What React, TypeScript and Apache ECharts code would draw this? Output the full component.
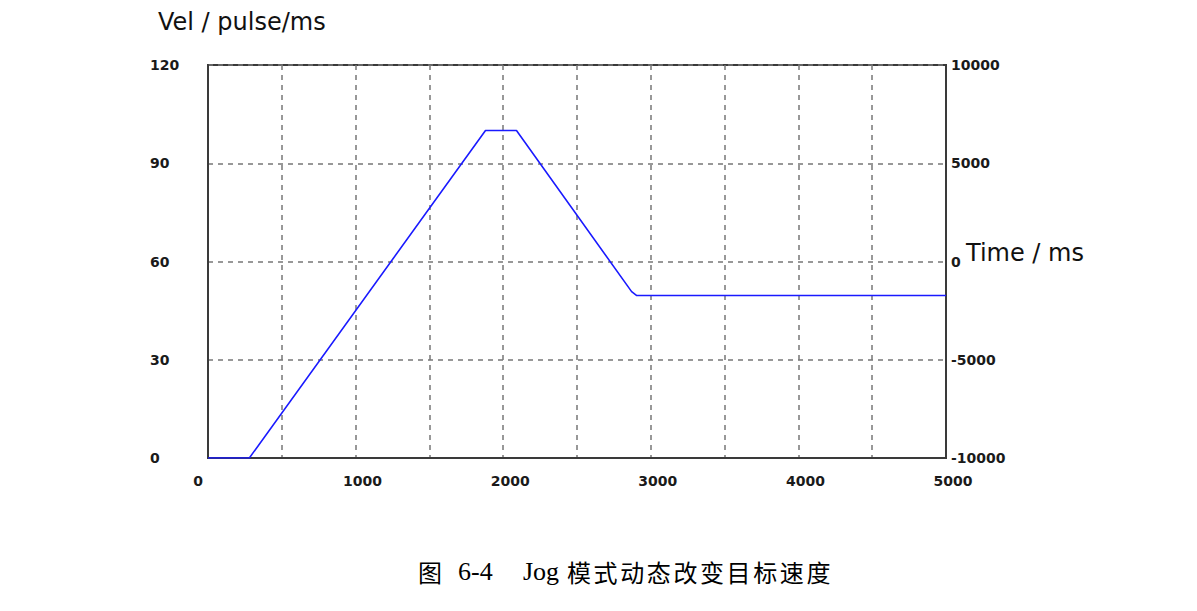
import React, { useEffect, useRef } from "react";
import * as echarts from "echarts";

// Velocity profile (time ms, velocity pulse/ms)
const timeMs = [0, 280, 1880, 2090, 2870, 2905, 5000];
const velocity = [0, 0, 100, 100, 50.8, 49.6, 49.6];

const xTicks = [0, 1000, 2000, 3000, 4000, 5000];
const leftTicks = [0, 30, 60, 90, 120];
const rightTicks = [-10000, -5000, 0, 5000, 10000];

const leftAxisName = "Vel / pulse/ms";
const rightAxisName = "Time / ms";
const captionPrefix = "图";
const captionNumber = "6-4";
const captionLatin = "Jog";
const captionChars = ["模", "式", "动", "态", "改", "变", "目", "标", "速", "度"];

export default function App() {
  const ref = useRef<HTMLDivElement>(null);

  useEffect(() => {
    if (!ref.current) return;
    const chart = echarts.init(ref.current, null, { renderer: "svg" });
    const labelFont = {
      fontFamily: "DejaVu Sans",
      fontSize: 14,
      fontWeight: "bold" as const,
      color: "#1a1a1a",
    };
    const dash = { color: "#777", width: 1.5, type: [5, 5] as any };
    const axisLine = { show: true, lineStyle: { color: "#3a3a3a", width: 2 } };

    const captionGraphics: any[] = [
      { type: "text", left: 418, top: 559, style: { text: captionPrefix, font: "normal 24px 'Noto Sans CJK SC'", fill: "#000" } },
      { type: "text", left: 458, top: 558, style: { text: captionNumber, font: "normal 26px 'Liberation Serif'", fill: "#000" } },
      { type: "text", left: 523, top: 558, style: { text: captionLatin, font: "normal 26px 'Liberation Serif'", fill: "#000" } },
      ...captionChars.map((c, i) => ({
        type: "text",
        left: 567 + i * 26.6,
        top: 559,
        style: { text: c, font: "normal 24px 'Noto Sans CJK SC'", fill: "#000" },
      })),
    ];

    chart.setOption({
      animation: false,
      backgroundColor: "#fff",
      grid: {
        left: 208,
        right: 251,
        top: 65,
        bottom: 153,
        show: true,
        borderColor: "#3a3a3a",
        borderWidth: 2,
        containLabel: false,
      },
      xAxis: {
        type: "value",
        min: xTicks[0],
        max: xTicks[xTicks.length - 1],
        interval: 500,
        axisLine,
        axisTick: { show: false },
        splitLine: { show: true, lineStyle: dash },
        axisLabel: {
          ...labelFont,
          margin: 16,
          formatter: (v: number) =>
            xTicks.includes(v) ? (v === 0 ? "{z|0}" : "{n|" + v + "}") : "",
          rich: {
            n: { ...labelFont, padding: [0, 0, 0, 14] },
            z: { ...labelFont, padding: [0, 20, 0, 0] },
          },
        },
      },
      yAxis: [
        {
          type: "value",
          position: "left",
          min: leftTicks[0],
          max: leftTicks[leftTicks.length - 1],
          interval: 30,
          axisLine,
          axisTick: { show: false },
          splitLine: { show: true, lineStyle: dash },
          axisLabel: { ...labelFont, margin: 58, align: "left", formatter: (v: number) => String(v) },
        },
        {
          type: "value",
          position: "right",
          min: rightTicks[0],
          max: rightTicks[rightTicks.length - 1],
          interval: 5000,
          axisLine,
          axisTick: { show: false },
          splitLine: { show: false },
          axisLabel: { ...labelFont, margin: 5, formatter: (v: number) => String(v) },
        },
      ],
      graphic: [
        { type: "text", left: 158, top: 10, style: { text: leftAxisName, font: "normal 24px 'DejaVu Sans'", fill: "#111" } },
        { type: "text", left: 966, top: 241, style: { text: rightAxisName, font: "normal 24px 'DejaVu Sans'", fill: "#111" } },
        ...captionGraphics,
      ],
      series: [
        {
          type: "line",
          yAxisIndex: 0,
          data: timeMs.map((t, i) => [t, velocity[i]]),
          showSymbol: false,
          lineStyle: { color: "#1a1aff", width: 1.6 },
          z: 5,
        },
      ],
    });
    return () => chart.dispose();
  }, []);

  return (
    <div
      ref={ref}
      style={{ position: "fixed", left: 0, top: 0, width: 1197, height: 611 }}
    />
  );
}
